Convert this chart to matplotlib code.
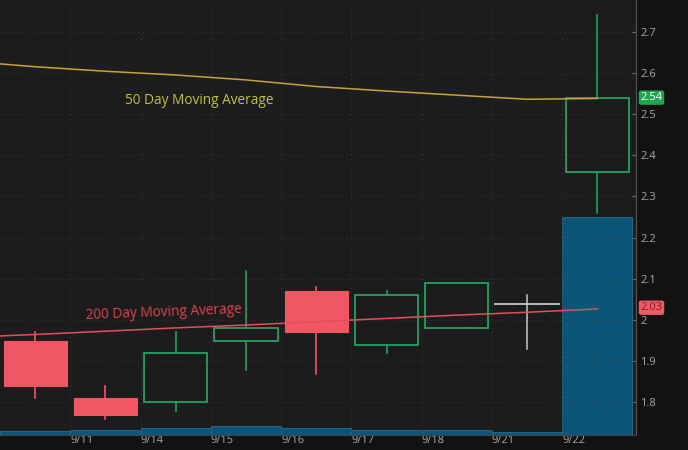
import numpy as np
import matplotlib
matplotlib.use('Agg')
import matplotlib.pyplot as plt
from matplotlib.patches import Rectangle

plt.rcParams['font.family'] = ['Open Sans', 'DejaVu Sans']

# daily candles
dates = ['9/10', '9/11', '9/14', '9/15', '9/16', '9/17', '9/18', '9/21', '9/22']
opens = [1.95, 1.81, 1.80, 1.95, 2.07, 1.94, 1.98, 2.04, 2.36]
highs = [1.97, 1.84, 1.97, 2.12, 2.08, 2.07, 2.09, 2.06, 2.74]
lows = [1.81, 1.76, 1.78, 1.88, 1.87, 1.92, 1.98, 1.93, 2.26]
closes = [1.84, 1.77, 1.92, 1.98, 1.97, 2.06, 2.09, 2.04, 2.54]
volume = [0.4, 0.5, 0.7, 0.9, 0.7, 0.5, 0.5, 0.3, 21.8]  # millions

# moving averages, first value is the day before 9/10
ma_x = [-1, 0, 1, 2, 3, 4, 5, 6, 7, 8]
ma50 = [2.629, 2.615, 2.604, 2.595, 2.583, 2.567, 2.556, 2.546, 2.536, 2.538]
ma200 = [1.958, 1.965, 1.973, 1.981, 1.988, 1.996, 2.004, 2.012, 2.019, 2.027]

yticks = [1.8, 1.9, 2.0, 2.1, 2.2, 2.3, 2.4, 2.5, 2.6, 2.7]
ytick_labels = ['1.8', '1.9', '2', '2.1', '2.2', '2.3', '2.4', '2.5', '2.6', '2.7']

GREEN = '#22a062'
RED = '#f05663'
BG = '#1c1c1c'
OUT = '#121212'

fig = plt.figure(figsize=(6.88, 4.5), dpi=100, facecolor=OUT)
axv = fig.add_axes([0, 0.0333, 0.9244, 0.9667])
ax = fig.add_axes([0, 0.0333, 0.9244, 0.9667], sharex=axv)
ax.set_zorder(axv.get_zorder() + 1)
ax.patch.set_visible(False)
axv.set_facecolor(BG)

x = np.arange(len(dates))

# volume
axv.bar(x, volume, width=1.0, color='#0b5678', edgecolor='#2a6e8c', linewidth=0.6)
axv.set_ylim(0, 43.5)
axv.set_yticks([])

# grid
for yt in yticks:
    ax.axhline(yt, color='#363636', lw=0.8, ls=(0, (1, 3)), zorder=0)
for i in range(1, len(dates)):
    ax.axvline(i - 0.5, color='#363636', lw=0.8, ls=(0, (1, 3)), zorder=0)

# candles
w = 0.9
for i in range(len(dates)):
    o, h, l, c = opens[i], highs[i], lows[i], closes[i]
    if abs(c - o) < 1e-9:
        ax.plot([i, i], [l, h], color='#c8c8c8', lw=1.1, zorder=3)
        ax.plot([i - w / 2, i + w / 2], [o, o], color='#c8c8c8', lw=1.3, zorder=3)
    elif c > o:
        ax.plot([i, i], [c, h], color=GREEN, lw=1.2, zorder=3)
        ax.plot([i, i], [l, o], color=GREEN, lw=1.2, zorder=3)
        ax.add_patch(Rectangle((i - w / 2, o), w, c - o, facecolor='none',
                               edgecolor=GREEN, lw=1.3, zorder=3))
    else:
        ax.plot([i, i], [l, h], color=RED, lw=1.2, zorder=2)
        ax.add_patch(Rectangle((i - w / 2, c), w, o - c, facecolor=RED,
                               edgecolor=RED, lw=0.8, zorder=3))

# moving averages
ax.plot(ma_x, ma50, color='#c9a13c', lw=1.1, zorder=4)
ax.plot(ma_x, ma200, color='#e0505a', lw=1.1, zorder=4)

ax.text(2.33, 2.532, '50 Day Moving Average', color='#c3c336', fontsize=9.8,
        va='center', ha='center', zorder=5)
ax.text(1.83, 2.019, '200 Day Moving Average', color='#e04450', fontsize=9.8,
        va='center', ha='center', rotation=2.2, zorder=5)

ax.set_xlim(-0.5, 8.55)
ax.set_ylim(1.721, 2.777)

# axes styling
for sp in ['left', 'top']:
    ax.spines[sp].set_visible(False)
    axv.spines[sp].set_visible(False)
ax.spines['right'].set_color('#555555')
ax.spines['bottom'].set_color('#444444')
axv.spines['right'].set_visible(False)
axv.spines['bottom'].set_visible(False)

ax.yaxis.tick_right()
ax.set_yticks(yticks)
ax.set_yticklabels(ytick_labels)
ax.tick_params(axis='y', direction='in', length=3, width=0.8, color='#666666',
               labelcolor='#a8a8a8', labelsize=8, pad=3)
for lab in ax.get_yticklabels():
    lab.set_horizontalalignment('left')

ax.set_xticks(x[1:] - 0.5)
ax.set_xticklabels(dates[1:])
ax.tick_params(axis='x', length=0, labelcolor='#a8a8a8', labelsize=8, pad=0)
for lab in ax.get_xticklabels():
    lab.set_horizontalalignment('left')
axv.tick_params(axis='x', length=0, labelbottom=False)

# last-value badges
ax.text(1.007, 2.54, '2.54', transform=ax.get_yaxis_transform(), color='white',
        fontsize=8, va='center', ha='left',
        bbox=dict(boxstyle='round,pad=0.15,rounding_size=0.2', fc='#1fa54f', ec='none'))
ax.text(1.007, 2.03, '2.03', transform=ax.get_yaxis_transform(), color='#8a1a24',
        fontsize=8, va='center', ha='left',
        bbox=dict(boxstyle='round,pad=0.15,rounding_size=0.2', fc='#ee5a66', ec='none'))

fig.savefig('out.png', dpi=100, facecolor=OUT)
